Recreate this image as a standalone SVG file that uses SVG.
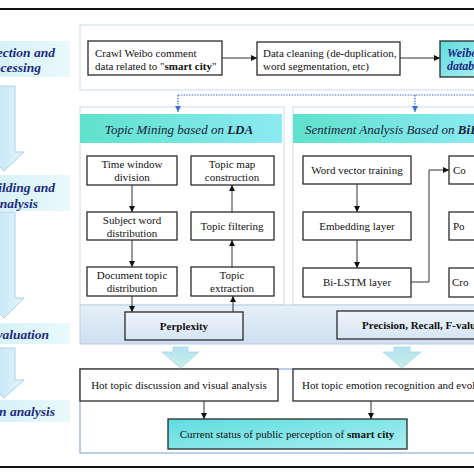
<svg xmlns="http://www.w3.org/2000/svg" width="474" height="474" viewBox="0 0 474 474">
<defs>
<style>
.t{font-family:"Liberation Serif","Times New Roman",serif;font-size:11px;fill:#111}
.c{text-anchor:middle}
.b{font-weight:bold}
.lbl{font-family:"Liberation Serif","Times New Roman",serif;font-size:13.5px;font-weight:bold;font-style:italic;fill:#1c2a80;text-anchor:end}
.hd{font-family:"Liberation Serif","Times New Roman",serif;font-size:13px;font-style:italic;fill:#1a2238}
.box{fill:#fff;stroke:#2a2a2a;stroke-width:1.3}
.panel{fill:#fff;stroke:#c9dbe9;stroke-width:1}
.ln{fill:none;stroke:#333;stroke-width:1}
.dot{fill:none;stroke:#3b6fd0;stroke-width:1.2;stroke-dasharray:1.5 1.2}
</style>
<linearGradient id="gLbl" x1="0" y1="0" x2="1" y2="0"><stop offset="0" stop-color="#d5f2f8"/><stop offset="1" stop-color="#eaf9fb"/></linearGradient>
<linearGradient id="gArr" x1="0" y1="0" x2="1" y2="0"><stop offset="0" stop-color="#b6e0f4"/><stop offset="1" stop-color="#e6f6fb"/></linearGradient>
<linearGradient id="gArr2" x1="0" y1="0" x2="0" y2="1"><stop offset="0" stop-color="#b3e2f2"/><stop offset="1" stop-color="#c8f1e6"/></linearGradient>
<linearGradient id="gHd" x1="0" y1="0" x2="1" y2="0"><stop offset="0" stop-color="#5fe1cc"/><stop offset="1" stop-color="#8ceaf2"/></linearGradient>
<linearGradient id="gCy" x1="0" y1="0" x2="1" y2="1"><stop offset="0" stop-color="#5fdcdf"/><stop offset="1" stop-color="#a8eff0"/></linearGradient>
<linearGradient id="gBand" x1="0" y1="0" x2="0" y2="1"><stop offset="0" stop-color="#e6eff8"/><stop offset="1" stop-color="#cfdff0"/></linearGradient>
<linearGradient id="gPb" x1="0" y1="0" x2="0" y2="1"><stop offset="0" stop-color="#eef4fb"/><stop offset="1" stop-color="#d6e5f3"/></linearGradient>
<marker id="ah" viewBox="0 0 10 10" refX="10" refY="5" markerWidth="6" markerHeight="6" markerUnits="userSpaceOnUse" orient="auto"><path d="M0,0 L10,5 L0,10 z" fill="#111"/></marker>
<marker id="ahb" viewBox="0 0 10 10" refX="10" refY="5" markerWidth="6" markerHeight="6" markerUnits="userSpaceOnUse" orient="auto"><path d="M0,0 L10,5 L0,10 z" fill="#3b6fd0"/></marker>
</defs>
<rect width="474" height="474" fill="#fff"/>
<line x1="0" y1="9" x2="474" y2="9" stroke="#111" stroke-width="2"/>
<line x1="0" y1="467" x2="474" y2="467" stroke="#111" stroke-width="2"/>

<!-- left stage labels -->
<g id="stage1"><rect x="-2" y="41" width="72" height="36" fill="url(#gLbl)"/><text class="lbl" x="55" y="57">lection and</text><text class="lbl" x="41" y="72">ocessing</text></g>
<g id="stage2"><rect x="-2" y="175" width="72" height="36" fill="url(#gLbl)"/><text class="lbl" x="55" y="192">ilding and</text><text class="lbl" x="38" y="208">nalysis</text></g>
<g id="stage3"><rect x="-2" y="323" width="72" height="21" fill="url(#gLbl)"/><text class="lbl" x="49" y="339">valuation</text></g>
<g id="stage4"><rect x="-2" y="400" width="72" height="22" fill="url(#gLbl)"/><text class="lbl" x="55" y="416">n analysis</text></g>
<g id="stageArrows" fill="url(#gArr)" stroke="#a6d3ec" stroke-width="1">
<polygon points="-7,86 15,86 15,152 24,152 4,171 -16,152 -7,152"/>
<polygon points="-7,212 15,212 15,298 24,298 4,318 -16,298 -7,298"/>
<polygon points="-7,348 15,348 15,380 24,380 4,398 -16,380 -7,380"/>
</g>

<!-- panels -->
<rect class="panel" x="80" y="25" width="400" height="65"/>
<rect class="panel" x="80" y="107" width="204" height="198"/>
<rect class="panel" x="293" y="107" width="190" height="198"/>
<rect x="80" y="114" width="202" height="29" fill="url(#gHd)"/>
<rect x="293" y="114" width="190" height="29" fill="url(#gHd)"/>
<text class="hd c" x="179" y="134">Topic Mining based on <tspan font-weight="bold">LDA</tspan></text>
<text class="hd" x="305" y="134">Sentiment Analysis Based on <tspan font-weight="bold">BiLS</tspan></text>
<rect x="80" y="305" width="400" height="39" fill="url(#gBand)" stroke="#b9cfe4" stroke-width="1"/>
<rect x="80" y="369" width="400" height="84" fill="#fff" stroke="#8fb0d6" stroke-width="1.2"/>

<!-- top row nodes -->
<g id="crawl"><rect class="box" x="88" y="41" width="134" height="34"/><text class="t" x="95" y="57">Crawl Weibo comment</text><text class="t" x="95" y="70">data related to "<tspan class="b">smart city</tspan>"</text></g>
<g id="clean"><rect class="box" x="257" y="42" width="143" height="33"/><text class="t" x="263" y="57">Data cleaning (de-duplication,</text><text class="t" x="263" y="70">word segmentation, etc)</text></g>
<g id="db"><rect x="440" y="41" width="40" height="36" fill="url(#gCy)" stroke="#2a2a2a" stroke-width="1.3"/><text class="lbl" style="text-anchor:start;font-size:12px" x="447" y="57">Weibo</text><text class="lbl" style="text-anchor:start;font-size:12px" x="447" y="70">databa</text></g>

<!-- LDA nodes -->
<g id="timewin"><rect class="box" x="87" y="156" width="90" height="29"/><text class="t c" x="132" y="168">Time window</text><text class="t c" x="132" y="181">division</text></g>
<g id="subject"><rect class="box" x="87" y="212" width="90" height="28"/><text class="t c" x="132" y="224">Subject word</text><text class="t c" x="132" y="237">distribution</text></g>
<g id="doctopic"><rect class="box" x="87" y="267" width="90" height="29"/><text class="t c" x="132" y="279">Document topic</text><text class="t c" x="132" y="292">distribution</text></g>
<g id="topicmap"><rect class="box" x="191" y="156" width="83" height="29"/><text class="t c" x="232" y="168">Topic map</text><text class="t c" x="232" y="181">construction</text></g>
<g id="filter"><rect class="box" x="191" y="212" width="83" height="28"/><text class="t c" x="232" y="230">Topic filtering</text></g>
<g id="extract"><rect class="box" x="191" y="267" width="83" height="29"/><text class="t c" x="232" y="279">Topic</text><text class="t c" x="232" y="292">extraction</text></g>
<g id="perplexity"><rect x="125" y="312" width="118" height="28" fill="url(#gPb)" stroke="#2a2a2a" stroke-width="1.3"/><text class="t c b" x="184" y="330">Perplexity</text></g>

<!-- BiLSTM nodes -->
<g id="wordvec"><rect class="box" x="303" y="156" width="108" height="28"/><text class="t c" x="357" y="174">Word vector training</text></g>
<g id="embed"><rect class="box" x="303" y="212" width="108" height="28"/><text class="t c" x="357" y="230">Embedding layer</text></g>
<g id="bilstm"><rect class="box" x="303" y="268" width="108" height="29"/><text class="t c" x="357" y="286">Bi-LSTM layer</text></g>
<g id="co"><rect class="box" x="449" y="156" width="40" height="28"/><text class="t" x="453" y="174">Co</text></g>
<g id="po"><rect class="box" x="449" y="212" width="40" height="28"/><text class="t" x="453" y="230">Po</text></g>
<g id="cro"><rect class="box" x="449" y="268" width="40" height="29"/><text class="t" x="452" y="286">Cro</text></g>
<g id="precision"><rect x="337" y="311" width="150" height="28" fill="url(#gPb)" stroke="#2a2a2a" stroke-width="1.3"/><text class="t b" x="362" y="329">Precision, Recall, F-valu</text></g>

<!-- bottom nodes -->
<g id="hotdisc"><rect class="box" x="80" y="369" width="198" height="32"/><text class="t c" x="179" y="389">Hot topic discussion and  visual analysis</text></g>
<g id="hotemo"><rect class="box" x="293" y="369" width="190" height="32"/><text class="t" x="302" y="389">Hot topic emotion recognition and evolu</text></g>
<g id="status"><rect x="168" y="419" width="239" height="30" fill="url(#gCy)" stroke="#2a2a2a" stroke-width="1.3"/><text class="t c" x="287" y="438">Current status of public perception of <tspan class="b">smart city</tspan></text></g>

<!-- block arrows between sections -->
<g id="blockArrows" fill="url(#gArr2)" stroke="#a8d6e8" stroke-width="0.8">
<polygon points="173,347 188,347 188,352 199,352 180.5,368 162,352 173,352"/>
<polygon points="394,347 410,347 410,352 421,352 402,368 383,352 394,352"/>
</g>

<!-- connectors -->
<g id="connectors">
<line class="ln" x1="222" y1="58" x2="257" y2="58" marker-end="url(#ah)"/>
<line class="ln" x1="400" y1="58" x2="440" y2="58" marker-end="url(#ah)"/>
<polyline class="dot" points="474,95 178,95"/>
<line class="dot" x1="178" y1="95" x2="178" y2="112" marker-end="url(#ahb)"/>
<line class="dot" x1="415" y1="95" x2="415" y2="112" marker-end="url(#ahb)"/>
<line class="ln" x1="132" y1="185" x2="132" y2="212" marker-end="url(#ah)"/>
<line class="ln" x1="132" y1="240" x2="132" y2="267" marker-end="url(#ah)"/>
<line class="ln" x1="132" y1="296" x2="132" y2="312" marker-end="url(#ah)"/>
<line class="ln" x1="233" y1="312" x2="233" y2="296" marker-end="url(#ah)"/>
<line class="ln" x1="232" y1="267" x2="232" y2="240" marker-end="url(#ah)"/>
<line class="ln" x1="232" y1="212" x2="232" y2="185" marker-end="url(#ah)"/>
<line class="ln" x1="357" y1="184" x2="357" y2="212" marker-end="url(#ah)"/>
<line class="ln" x1="357" y1="240" x2="357" y2="268" marker-end="url(#ah)"/>
<polyline class="ln" stroke="#777" points="411,282 429,282 429,170 449,170" marker-end="url(#ah)"/>
<line class="ln" x1="204" y1="401" x2="204" y2="419" marker-end="url(#ah)"/>
<line class="ln" x1="371" y1="401" x2="371" y2="419" marker-end="url(#ah)"/>
</g>
</svg>
